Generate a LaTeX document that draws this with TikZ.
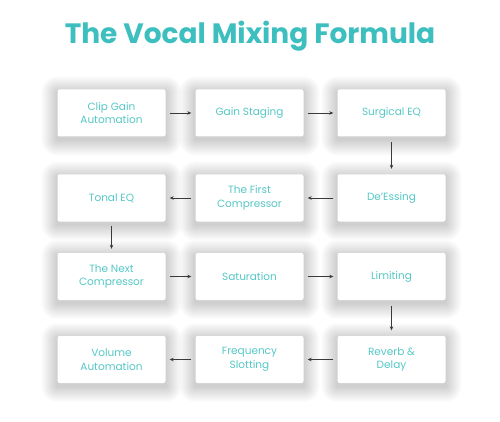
\documentclass[tikz,border=0pt]{standalone}
\usepackage{fontspec}
\setmainfont{Poppins}
\usepackage{tikz}
\usetikzlibrary{arrows.meta,backgrounds}
\definecolor{titleteal}{HTML}{3CBFBE}
\definecolor{boxteal}{HTML}{55C8C6}
\definecolor{arrowgrey}{HTML}{3A3A3A}
\tikzset{
  stage/.style={draw=none, fill=white, rounded corners=2pt, minimum width=108pt, minimum height=47pt,
    align=center, text=boxteal, font=\fontsize{10.5}{13.5}\selectfont},
  softshadow/.style={fill=black, opacity=0.011},
  flow/.style={-{Stealth[length=4pt,width=3.5pt]}, arrowgrey, line width=0.5pt, shorten >=4pt, shorten <=4pt},
  flowdown/.style={flow, shorten >=5.5pt, shorten <=5.5pt}
}
\begin{document}
\begin{tikzpicture}[x=1pt,y=-1pt]
			%%%%% START %%%%%
			
			\useasboundingbox (0, 0) rectangle (500, 422);
			
			\node[text=titleteal, font=\fontsize{28}{34}\selectfont\bfseries] (title) at (250, 36) {The Vocal Mixing Formula};
			
			\node[stage] (clipgain) at (111.5, 113) {Clip Gain\\Automation};
			\node[stage] (gainstaging) at (249.5, 113) {Gain Staging};
			\node[stage] (surgicaleq) at (391.5, 113) {Surgical EQ};
			
			\node[stage] (tonaleq) at (111.5, 198) {Tonal EQ};
			\node[stage] (firstcomp) at (249.5, 198) {The First\\Compressor};
			\node[stage] (deessing) at (391.5, 198) {De'Essing};
			
			\node[stage] (nextcomp) at (111.5, 276.5) {The Next\\Compressor};
			\node[stage] (saturation) at (249.5, 276.5) {Saturation};
			\node[stage] (limiting) at (391.5, 276.5) {Limiting};
			
			\node[stage] (volauto) at (111.5, 359.5) {Volume\\Automation};
			\node[stage] (freqslot) at (249.5, 359.5) {Frequency\\Slotting};
			\node[stage] (reverb) at (391.5, 359.5) {Reverb \&\\Delay};
			
			% soft shadows behind the boxes
			\begin{scope}[on background layer]
				\fill[white] (0, 0) rectangle (500, 422);
				\foreach \n in {clipgain,gainstaging,surgicaleq,tonaleq,firstcomp,deessing,nextcomp,saturation,limiting,volauto,freqslot,reverb}
					\foreach \i in {1,...,16}
						\fill[softshadow, rounded corners=\i pt] ([shift={(-\i,-\i+3)}]\n.north west) rectangle ([shift={(\i,\i+3)}]\n.south east);
			\end{scope}
			
			\draw[flow] (clipgain) -- (gainstaging);
			\draw[flow] (gainstaging) -- (surgicaleq);
			\draw[flowdown] (surgicaleq) -- (deessing);
			\draw[flow] (deessing) -- (firstcomp);
			\draw[flow] (firstcomp) -- (tonaleq);
			\draw[flow] (tonaleq) -- (nextcomp);
			\draw[flow] (nextcomp) -- (saturation);
			\draw[flow] (saturation) -- (limiting);
			\draw[flowdown] (limiting) -- (reverb);
			\draw[flow] (reverb) -- (freqslot);
			\draw[flow] (freqslot) -- (volauto);
			
			%%%%% END %%%%%
		\end{tikzpicture}
\end{document}
